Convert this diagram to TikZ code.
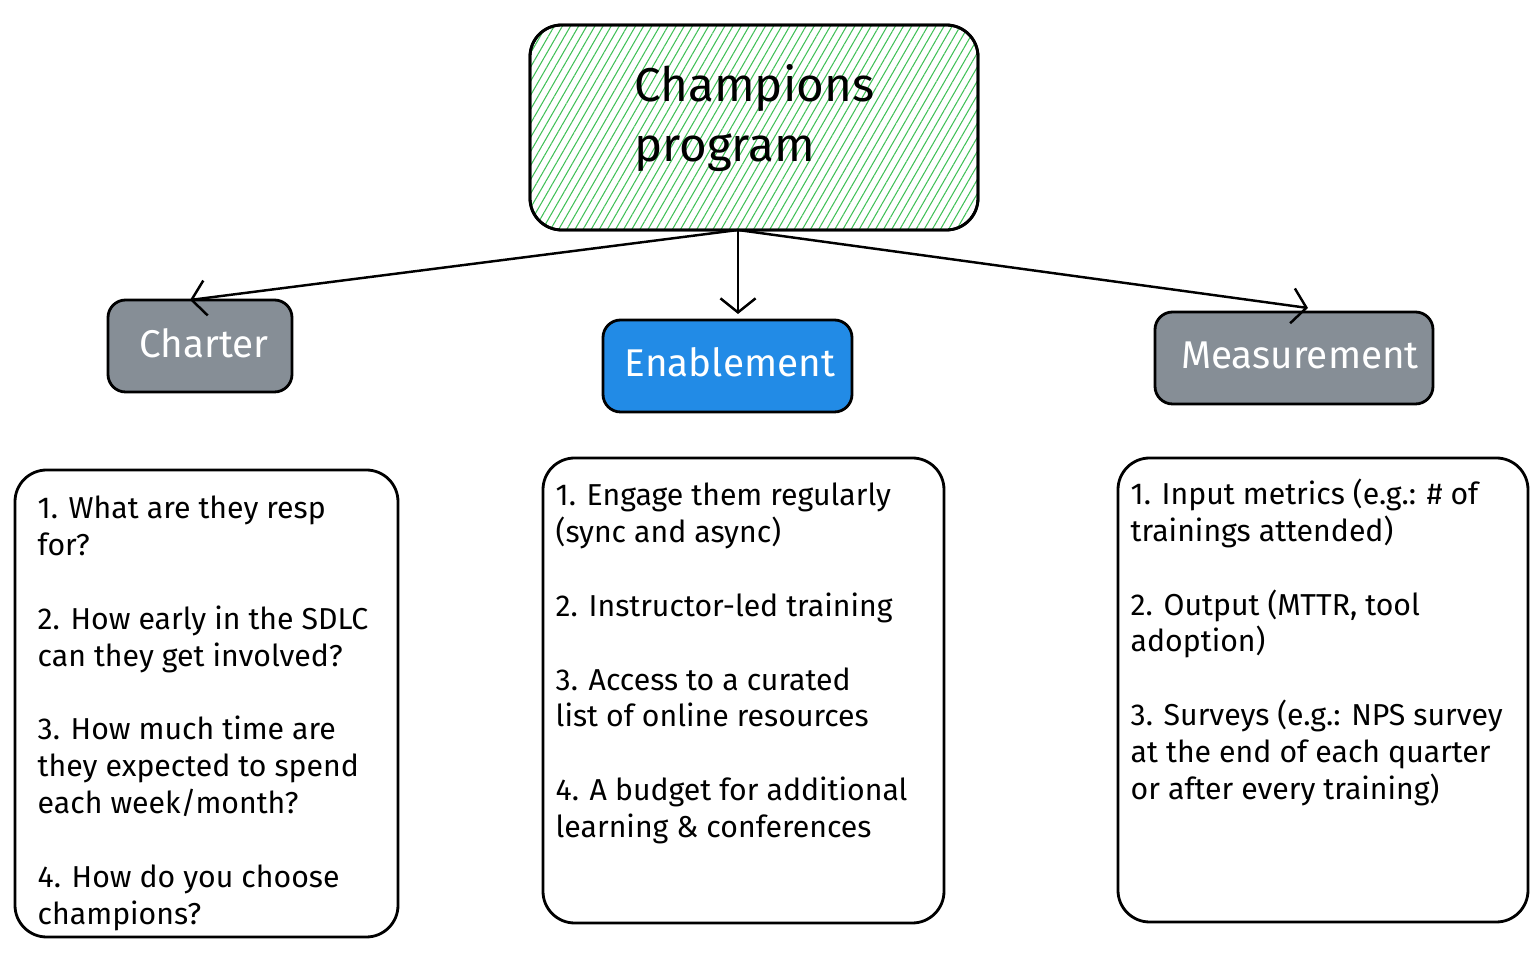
\documentclass[tikz,border=0pt]{standalone}
\usepackage{fontspec}
\setmainfont{Fira Sans}
\usetikzlibrary{patterns.meta,arrows.meta}
\definecolor{hgreen}{HTML}{40C057}
\definecolor{gbox}{HTML}{868E96}
\definecolor{bbox}{HTML}{228BE6}
\begin{document}
\begin{tikzpicture}[x=0.01cm,y=-0.01cm,
  box/.style={draw=black,line width=0.8pt,rounded corners=5pt},
  lab/.style={text=white,font=\fontsize{11}{13}\selectfont},
  body/.style={anchor=north west,align=left,font=\fontsize{8.6}{10.5}\selectfont,inner sep=0pt},
  arr/.style={draw=black,line width=0.7pt,-{Straight Barb[length=4pt,width=10pt]}}]
\useasboundingbox (0,0) rectangle (1538,958);
\draw[box,rounded corners=9pt,fill=hgreen!10,pattern={Lines[angle=60,distance=2pt,line width=0.3pt]},pattern color=hgreen] (530,25) rectangle (978,230);
\draw[box,rounded corners=9pt] (530,25) rectangle (978,230);
\node[font=\fontsize{13.5}{17}\selectfont,align=left,anchor=west] (top) at (622,118) {Champions\\program};
\coordinate (topb) at (738,230);
\draw[box,fill=gbox] (108,300) rectangle (292,392);
\node[lab] (charter) at (204,343) {Charter};
\coordinate (cht) at (190,300);
\draw[box,fill=bbox] (603,320) rectangle (852,412);
\node[lab] (enab) at (730,362) {Enablement};
\coordinate (ent) at (738,314);
\draw[box,fill=gbox] (1155,312) rectangle (1433,404);
\node[lab] (meas) at (1300,355) {Measurement};
\coordinate (mt) at (1308,308);
\draw[arr] (topb) -- (cht);
\draw[arr] (topb) -- (ent);
\draw[arr] (topb) -- (mt);
\draw[box,rounded corners=9pt] (15,470) rectangle (398,937);
\draw[box,rounded corners=9pt] (543,458) rectangle (944,923);
\draw[box,rounded corners=9pt] (1118,458) rectangle (1528,922);
\node[body] (t1) at (37,495) {1. What are they resp\\for?\\[10.5pt]2. How early in the SDLC\\can they get involved?\\[10.5pt]3. How much time are\\they expected to spend\\each week/month?\\[10.5pt]4. How do you choose\\champions?};
\node[body] (t2) at (555,482) {1. Engage them regularly\\(sync and async)\\[10.5pt]2. Instructor-led training\\[10.5pt]3. Access to a curated\\list of online resources\\[10.5pt]4. A budget for additional\\learning \& conferences};
\node[body] (t3) at (1130,478) {1. Input metrics (e.g.: \# of\\trainings attended)\\[10.5pt]2. Output (MTTR, tool\\adoption)\\[10.5pt]3. Surveys (e.g.: NPS survey\\at the end of each quarter\\or after every training)};
\end{tikzpicture}
\end{document}
